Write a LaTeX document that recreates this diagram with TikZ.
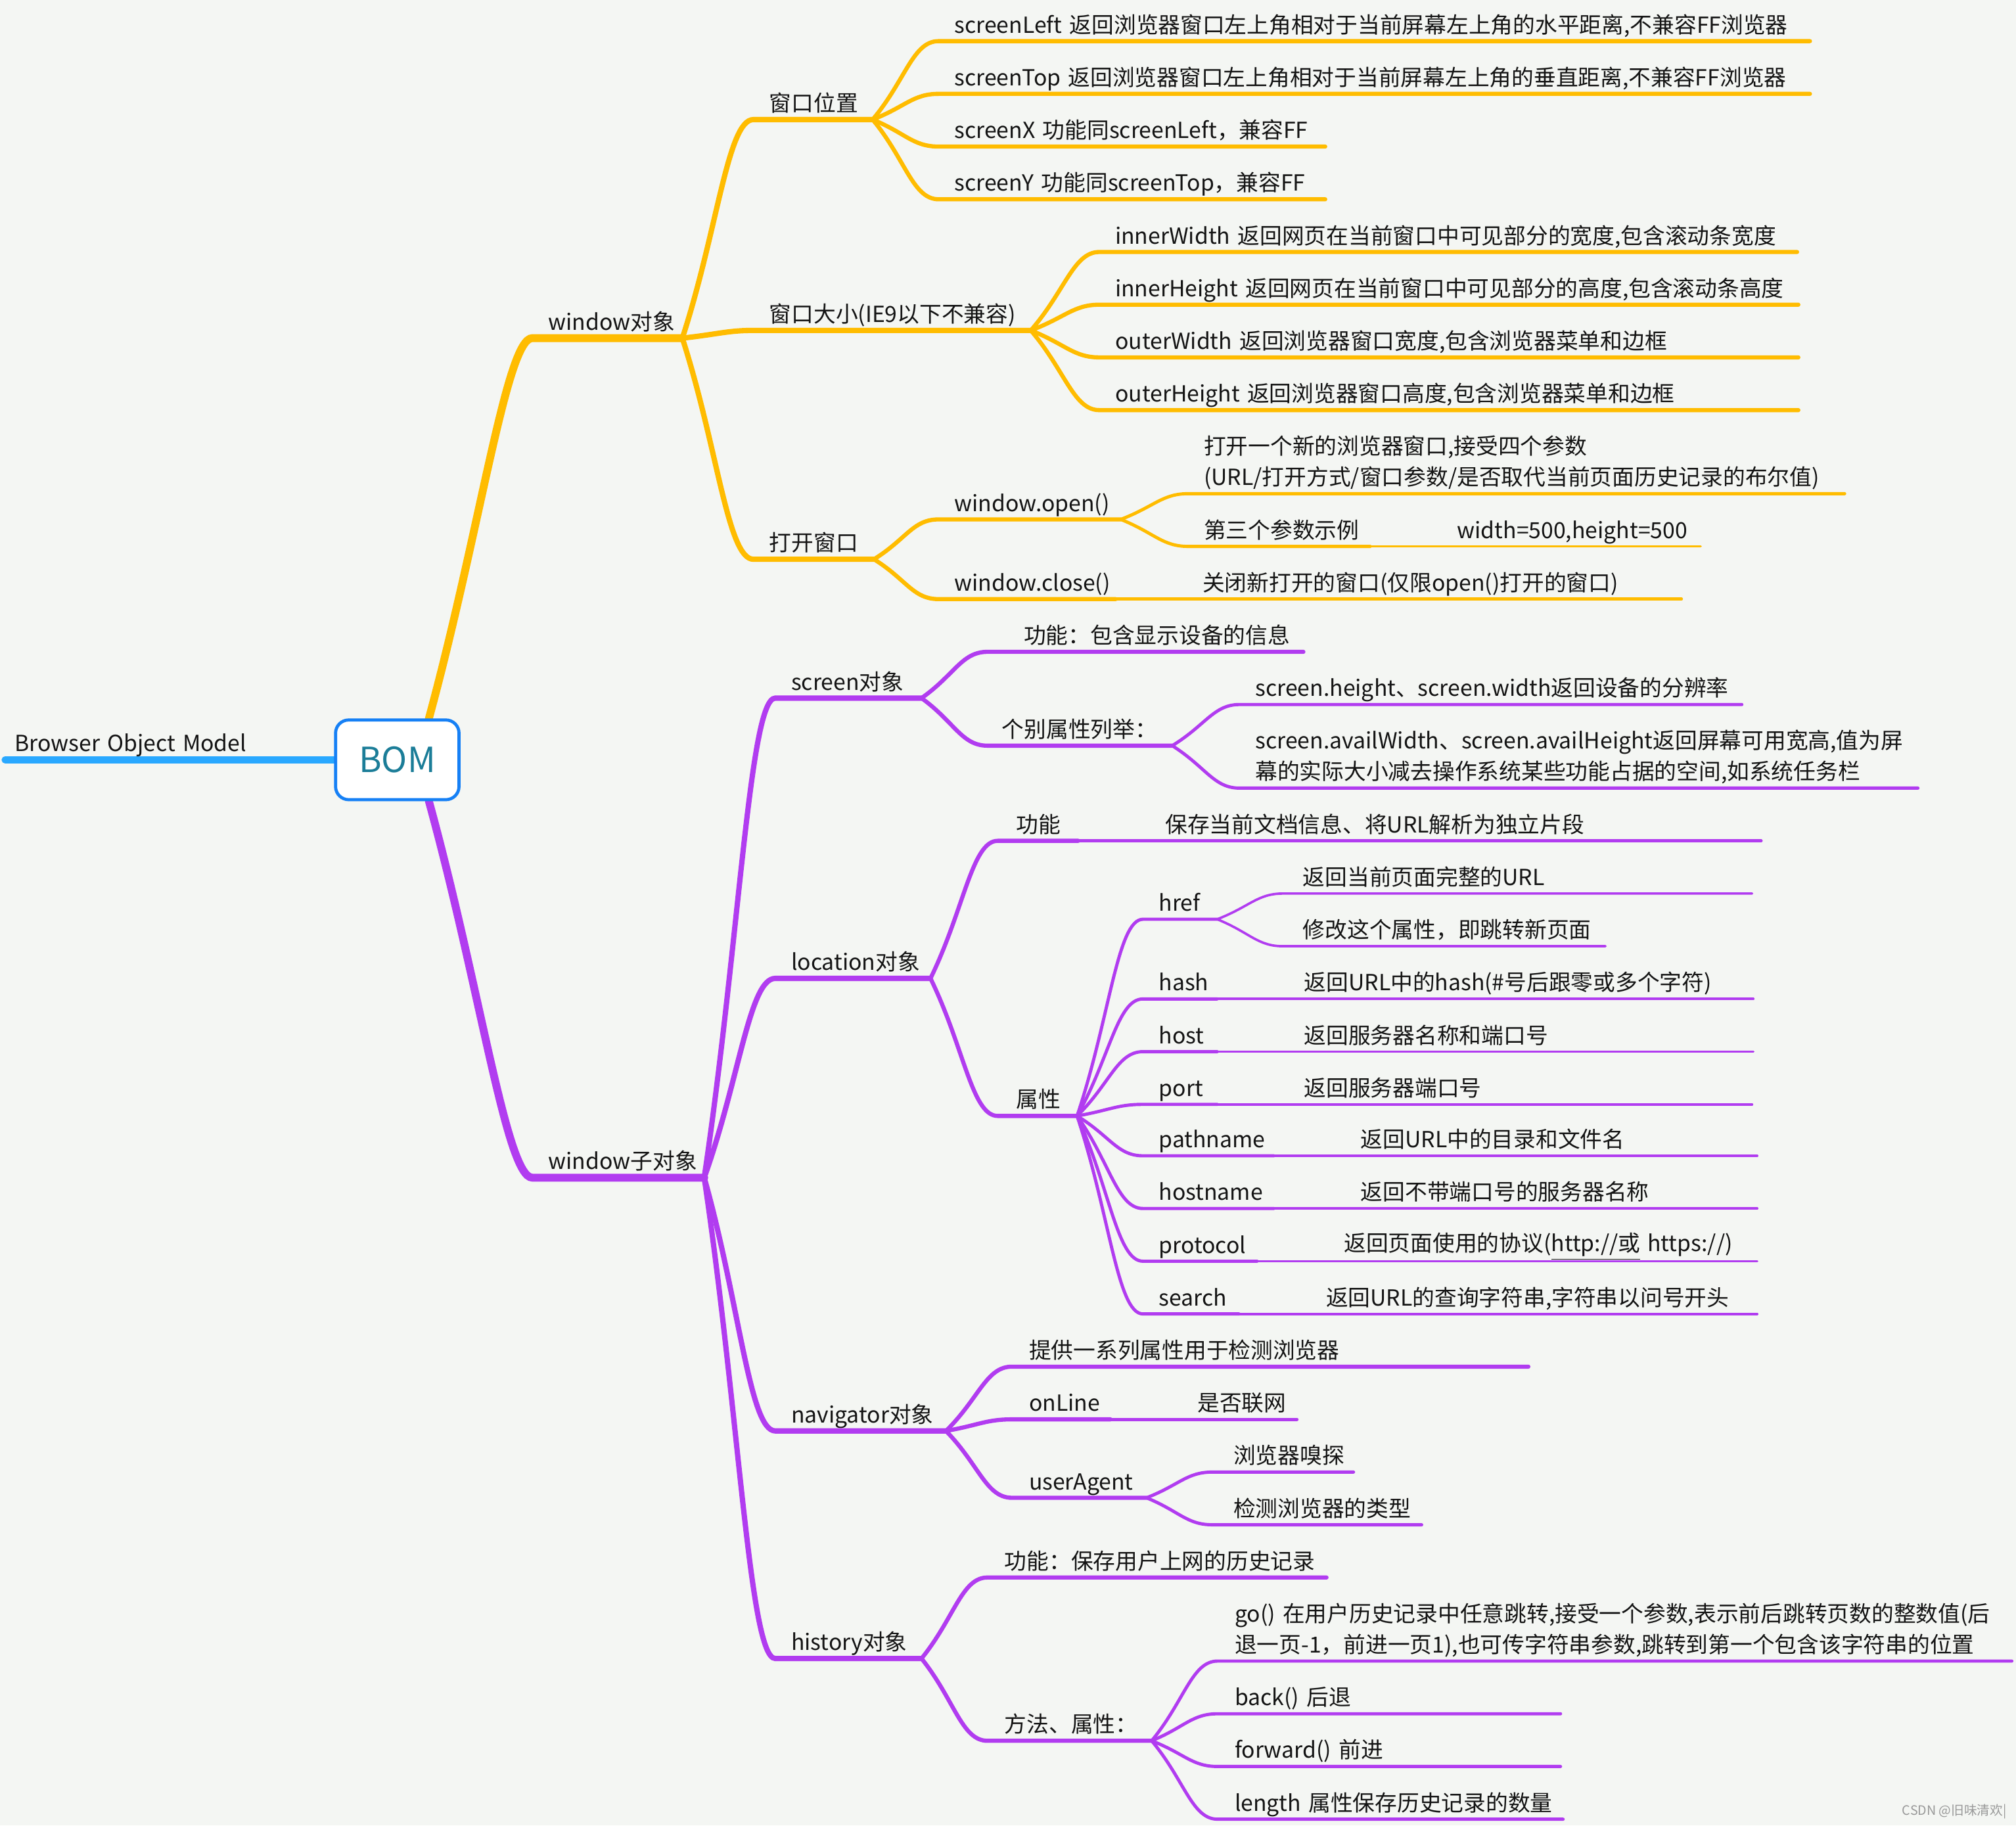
\documentclass[tikz,border=0pt]{standalone}
\usepackage{fontspec}
\setmainfont{Noto Sans CJK SC}
\usetikzlibrary{calc,backgrounds}

\hyphenpenalty=10000
\exhyphenpenalty=10000

\definecolor{bgcol}{RGB}{244,246,243}
\definecolor{ylw}{RGB}{255,188,0}
\definecolor{prp}{RGB}{177,60,240}
\definecolor{sky}{RGB}{41,168,255}
\definecolor{bomline}{RGB}{22,128,245}
\definecolor{bomtext}{RGB}{27,125,152}
\definecolor{ink}{RGB}{20,20,20}

\newcommand{\mmpx}{0.019566cm}
\newcommand{\mmstrut}{\rule[-3.34pt]{0pt}{9.4pt}}
% [pad]{name}{x left}{y line}{x right}{text}
\newcommand{\topic}[6][12]{%
  \node[topic, inner xsep=#1*\mmpx, text width={(#5-#3-2*#1)*\mmpx}] (#2) at (#3,#4) {#6\mmstrut};}

\tikzset{
  topic/.style={anchor=south west, align=left, inner ysep=0pt,
    font=\fontsize{9.6}{13.4}\selectfont, text=ink},
  bomnode/.style={draw=bomline, line width=1.35pt, fill=white,
    rounded corners=.2cm, minimum width=96*\mmpx, minimum height=62*\mmpx,
    inner sep=0pt, text=bomtext, font=\fontsize{15}{18}\selectfont},
  mm curve/.style={to path={.. controls ($(\tikztostart)!.5!(\tikztotarget)$)
    and ($(\tikztotarget)+(-20,0)$) .. (\tikztotarget)}},
  ybr/.style={draw=ylw, line cap=round},
  pbr/.style={draw=prp, line cap=round},
  d0/.style={line width=3.4pt},
  d2/.style={line width=2.3pt},
  d3/.style={line width=1.8pt},
  d4/.style={line width=1.4pt},
  d5/.style={line width=1.05pt},
}

\begin{document}
\begin{tikzpicture}[x=\mmpx, y=-\mmpx]
  \useasboundingbox (0,0) rectangle (1568,1420);

  % centre and left label
  \node[bomnode] (bom) at (309,591) {BOM};
  \topic[7]{bmodel}{4}{591}{200}{Browser~Object~Model}

  % window
  \topic{win}{414}{263}{530}{window对象}
  \topic{pos}{586}{93}{678}{窗口位置}
  \topic{size}{586}{257}{801}{窗口大小(IE9以下不兼容)}
  \topic{open}{586}{435}{679}{打开窗口}
  \topic{sleft}{730}{32}{1407}{screenLeft~返回浏览器窗口左上角相对于当前屏幕左上角的水平距离,不兼容FF浏览器}
  \topic{stop}{730}{73}{1407}{screenTop~返回浏览器窗口左上角相对于当前屏幕左上角的垂直距离,不兼容FF浏览器}
  \topic{sx}{730}{114}{1030}{screenX~功能同screenLeft，兼容FF}
  \topic{sy}{730}{155}{1030}{screenY~功能同screenTop，兼容FF}
  \topic{iw}{855}{196}{1397}{innerWidth~返回网页在当前窗口中可见部分的宽度,包含滚动条宽度}
  \topic{ih}{855}{237}{1398}{innerHeight~返回网页在当前窗口中可见部分的高度,包含滚动条高度}
  \topic{ow}{855}{278}{1398}{outerWidth~返回浏览器窗口宽度,包含浏览器菜单和边框}
  \topic{oh}{855}{319}{1398}{outerHeight~返回浏览器窗口高度,包含浏览器菜单和边框}
  \topic{wopen}{730}{404}{871}{window.open()}
  \topic{wclose}{730}{466}{867}{window.close()}
  \topic{closev}{923}{466}{1307}{关闭新打开的窗口(仅限open()打开的窗口)}
  \topic{oargs}{924}{384}{1434}{打开一个新的浏览器窗口,接受四个参数\\(URL/打开方式/窗口参数/是否取代当前页面历史记录的布尔值)}
  \topic{othird}{924}{425}{1065}{第三个参数示例}
  \topic{oex}{1121}{425}{1322}{width=500,height=500}

  % window children
  \topic{sub}{414}{916}{547}{window子对象}
  \topic{scr}{603}{543}{716}{screen对象}
  \topic{loc}{603}{761}{723}{location对象}
  \topic{nav}{603}{1113}{735}{navigator对象}
  \topic{his}{603}{1290}{716}{history对象}
  \topic[28]{sfunc}{768}{507}{1013}{功能：包含显示设备的信息}
  \topic[11]{sattr}{768}{580}{911}{个别属性列举：}
  \topic{sres}{964}{548}{1354}{screen.height、screen.width返回设备的分辨率}
  \topic{savail}{964}{613}{1491}{screen.availWidth、screen.availHeight返回屏幕可用宽高,值为屏\\幕的实际大小减去操作系统某些功能占据的空间,如系统任务栏}
  \topic[14]{lfunc}{776}{654}{838}{功能}
  \topic{lfuncv}{894}{654}{1369}{保存当前文档信息、将URL解析为独立片段}
  \topic[14]{lattr}{776}{868}{837}{属性}
  \topic{href}{889}{715}{946}{href}
  \topic[15]{hrefa}{998}{695}{1362}{返回当前页面完整的URL}
  \topic[15]{hrefb}{998}{736}{1248}{修改这个属性，即跳转新页面}
  \topic{hash}{889}{777}{946}{hash}
  \topic{hashv}{1002}{777}{1363}{返回URL中的hash(\#号后跟零或多个字符)}
  \topic{host}{889}{818}{946}{host}
  \topic{hostv}{1002}{818}{1363}{返回服务器名称和端口号}
  \topic{port}{889}{859}{946}{port}
  \topic{portv}{1002}{859}{1362}{返回服务器端口号}
  \topic{pname}{889}{899}{990}{pathname}
  \topic{pnamev}{1046}{899}{1366}{返回URL中的目录和文件名}
  \topic{hname}{889}{940}{990}{hostname}
  \topic{hnamev}{1046}{940}{1366}{返回不带端口号的服务器名称}
  \topic{proto}{889}{981}{977}{protocol}
  \topic{protov}{1033}{981}{1366}{返回页面使用的协议(\underline{http://或}~https://)}
  \topic{srch}{889}{1022}{963}{search}
  \topic{srchv}{1019}{1022}{1366}{返回URL的查询字符串,字符串以问号开头}
  \topic[13]{nfunc}{787}{1063}{1188}{提供一系列属性用于检测浏览器}
  \topic[13]{online}{787}{1104}{863}{onLine}
  \topic{onlinev}{919}{1104}{1008}{是否联网}
  \topic[13]{ua}{787}{1165}{891}{userAgent}
  \topic[16]{uaa}{943}{1145}{1052}{浏览器嗅探}
  \topic[16]{uab}{943}{1186}{1105}{检测浏览器的类型}
  \topic[13]{hfunc}{768}{1227}{1031}{功能：保存用户上网的历史记录}
  \topic[13]{hmeth}{768}{1354}{895}{方法、属性：}
  \topic[13]{hgo}{947}{1292}{1564}{go()~在用户历史记录中任意跳转,接受一个参数,表示前后跳转页数的整数值(后\\退一页-1，前进一页1),也可传字符串参数,跳转到第一个包含该字符串的位置}
  \topic[13]{hback}{947}{1333}{1213}{back()~后退}
  \topic[13]{hfwd}{947}{1374}{1213}{forward()~前进}
  \topic[13]{hlen}{947}{1415}{1215}{length~属性保存历史记录的数量}

  \node[anchor=east, inner sep=0pt, text=black!40,
    font=\fontsize{5.6}{6.7}\selectfont] (mark) at (1561,1409) {CSDN @旧味清欢|};

  \begin{scope}[on background layer]
    \fill[bgcol] (0,0) rectangle (1568,1420);
    \draw[sky, line width=3.1pt, line cap=round] (bmodel.south west) -- (bom.west);
    \draw[ybr, d0] ($(bom.north)!.5!(bom.north east)$) to[mm curve] (win.south west) -- (win.south east);
    \draw[pbr, d0] ($(bom.south)!.5!(bom.south east)$) to[mm curve] (sub.south west) -- (sub.south east);
  \end{scope}

  % yellow branches
  \foreach \nd in {pos,size,open}
    \draw[ybr, d2] (win.south east) to[mm curve] (\nd.south west) -- (\nd.south east);
  \foreach \nd in {sleft,stop,sx,sy}
    \draw[ybr, d3] (pos.south east) to[mm curve] (\nd.south west) -- (\nd.south east);
  \foreach \nd in {iw,ih,ow,oh}
    \draw[ybr, d3] (size.south east) to[mm curve] (\nd.south west) -- (\nd.south east);
  \foreach \nd in {wopen,wclose}
    \draw[ybr, d3] (open.south east) to[mm curve] (\nd.south west) -- (\nd.south east);
  \foreach \nd in {oargs,othird}
    \draw[ybr, d4] (wopen.south east) to[mm curve] (\nd.south west) -- (\nd.south east);
  \draw[ybr, d4] (wclose.south east) -- (closev.south west) -- (closev.south east);
  \draw[ybr, d5] (othird.south east) -- (oex.south west) -- (oex.south east);

  % purple branches
  \foreach \nd in {scr,loc,nav,his}
    \draw[pbr, d2] (sub.south east) to[mm curve] (\nd.south west) -- (\nd.south east);
  \foreach \nd in {sfunc,sattr}
    \draw[pbr, d3] (scr.south east) to[mm curve] (\nd.south west) -- (\nd.south east);
  \foreach \nd in {sres,savail}
    \draw[pbr, d4] (sattr.south east) to[mm curve] (\nd.south west) -- (\nd.south east);
  \foreach \nd in {lfunc,lattr}
    \draw[pbr, d3] (loc.south east) to[mm curve] (\nd.south west) -- (\nd.south east);
  \draw[pbr, d4] (lfunc.south east) -- (lfuncv.south west) -- (lfuncv.south east);
  \foreach \nd in {href,hash,host,port,pname,hname,proto,srch}
    \draw[pbr, d4] (lattr.south east) to[mm curve] (\nd.south west) -- (\nd.south east);
  \foreach \nd in {hrefa,hrefb}
    \draw[pbr, d5] (href.south east) to[mm curve] (\nd.south west) -- (\nd.south east);
  \foreach \kname/\vname in {hash/hashv,host/hostv,port/portv,pname/pnamev,hname/hnamev,proto/protov,srch/srchv}
    \draw[pbr, d5] (\kname.south east) -- (\vname.south west) -- (\vname.south east);
  \foreach \nd in {nfunc,online,ua}
    \draw[pbr, d3] (nav.south east) to[mm curve] (\nd.south west) -- (\nd.south east);
  \draw[pbr, d4] (online.south east) -- (onlinev.south west) -- (onlinev.south east);
  \foreach \nd in {uaa,uab}
    \draw[pbr, d4] (ua.south east) to[mm curve] (\nd.south west) -- (\nd.south east);
  \foreach \nd in {hfunc,hmeth}
    \draw[pbr, d3] (his.south east) to[mm curve] (\nd.south west) -- (\nd.south east);
  \foreach \nd in {hgo,hback,hfwd,hlen}
    \draw[pbr, d4] (hmeth.south east) to[mm curve] (\nd.south west) -- (\nd.south east);
\end{tikzpicture}
\end{document}
